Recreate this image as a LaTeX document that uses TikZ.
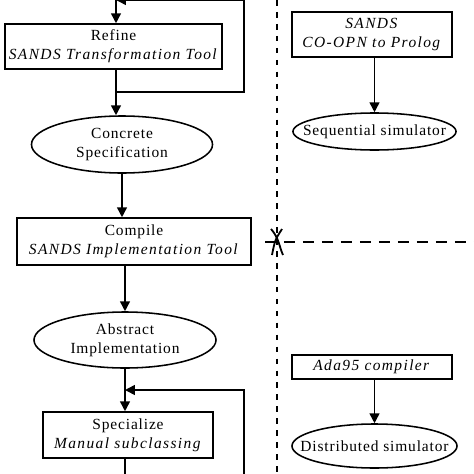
\documentclass[tikz,border=0pt]{standalone}
\usepackage{fontspec}
\setmainfont{Liberation Serif}[LetterSpace=5.5, ItalicFeatures={LetterSpace=9}]
\usetikzlibrary{shapes.geometric}
\usetikzlibrary{arrows.meta}

\begin{document}
\begin{tikzpicture}[x=0.025cm, y=-0.025cm, line width=1.1pt,
        font=\fontsize{11}{13.5}\selectfont,
        tool/.style={draw, rectangle, align=center, inner sep=0pt},
        state/.style={draw, ellipse, inner sep=0pt},
        arr/.style={-{Triangle[length=7pt,width=7pt]}},
        divider/.style={line width=0.9pt, dash pattern=on 4pt off 4.5pt},
        divider2/.style={line width=0.9pt, dash pattern=on 8pt off 5.5pt}]
        \useasboundingbox (0,0) rectangle (474,474);
        \clip (0,0) rectangle (474,474);
        % left column
        \node[tool, minimum width=5.425cm, minimum height=1.125cm] (refine) at (113.5,46.5) {Refine\\\textit{SANDS Transformation Tool}};
        \node[state, minimum width=4.525cm, minimum height=1.425cm, label={[align=center]center:{Concrete\\Specification}}] (concrete) at (122,144.5) {};
        \node[tool, minimum width=5.85cm, minimum height=1.175cm] (compile) at (134,241.5) {Compile\\\textit{SANDS Implementation Tool}};
        \node[state, minimum width=4.55cm, minimum height=1.4cm, label={[align=center]center:{Abstract\\Implementation}}] (abstract) at (125,340) {};
        \node[tool, minimum width=4.25cm, minimum height=1.15cm] (specialize) at (128,435) {Specialize\\\textit{Manual subclassing}};
        % right column
        \node[tool, minimum width=4cm, minimum height=1.125cm] (prolog) at (372,34.5) {\textit{SANDS}\\\textit{CO-OPN to Prolog}};
        \node[state, minimum width=4.075cm, minimum height=0.925cm, label={center:Sequential simulator}] (seq) at (374.5,131.5) {};
        \node[tool, minimum width=4cm, minimum height=0.6cm] (ada) at (372,367) {\textit{Ada95 compiler}};
        \node[state, minimum width=4.125cm, minimum height=1.1cm, label={center:Distributed simulator}] (dist) at (374.5,446) {};
        % loose ends
        \draw (116,0) coordinate (topin);
        \draw (116,92) coordinate (j1);
        \draw (244,0) coordinate (c1);
        \draw (244,390) coordinate (j2);
        \draw (244,474) coordinate (lp2);
        \draw (277,0) coordinate (dtop);
        \draw (277,474) coordinate (dbot);
        \draw (265,242) coordinate (hl);
        \draw (474,242) coordinate (hr);
        % flow
        \draw[arr] (topin) -- (topin |- refine.north);
        \draw[arr] (topin |- refine.south) -- (topin |- concrete.north);
        \draw[arr] (j1) -| (c1) -- (topin);
        \draw[arr] (concrete.south) -- (compile.north -| concrete.south);
        \draw[arr] (compile.south -| abstract.north) -- (abstract.north);
        \draw[arr] (abstract.south) -- (specialize.north -| abstract.south);
        \draw[arr] (lp2) -- (j2) -- (j2 -| abstract.south);
        \draw (specialize.south -| abstract.south) -- (lp2 -| abstract.south);
        \draw[arr] (prolog.south -| seq.north) -- (seq.north);
        \draw[arr] (ada.south -| dist.north) -- (dist.north);
        % dividers
        \draw[divider] (dtop) -- (dbot);
        \draw[divider2] (hl) -- (hr);
        \draw[line width=1.3pt] (271,229) .. controls (279,238) and (279,246) .. (283,255);
        \draw[line width=1.3pt] (282,229) .. controls (275,240) .. (272,255);
\end{tikzpicture}
\end{document}
